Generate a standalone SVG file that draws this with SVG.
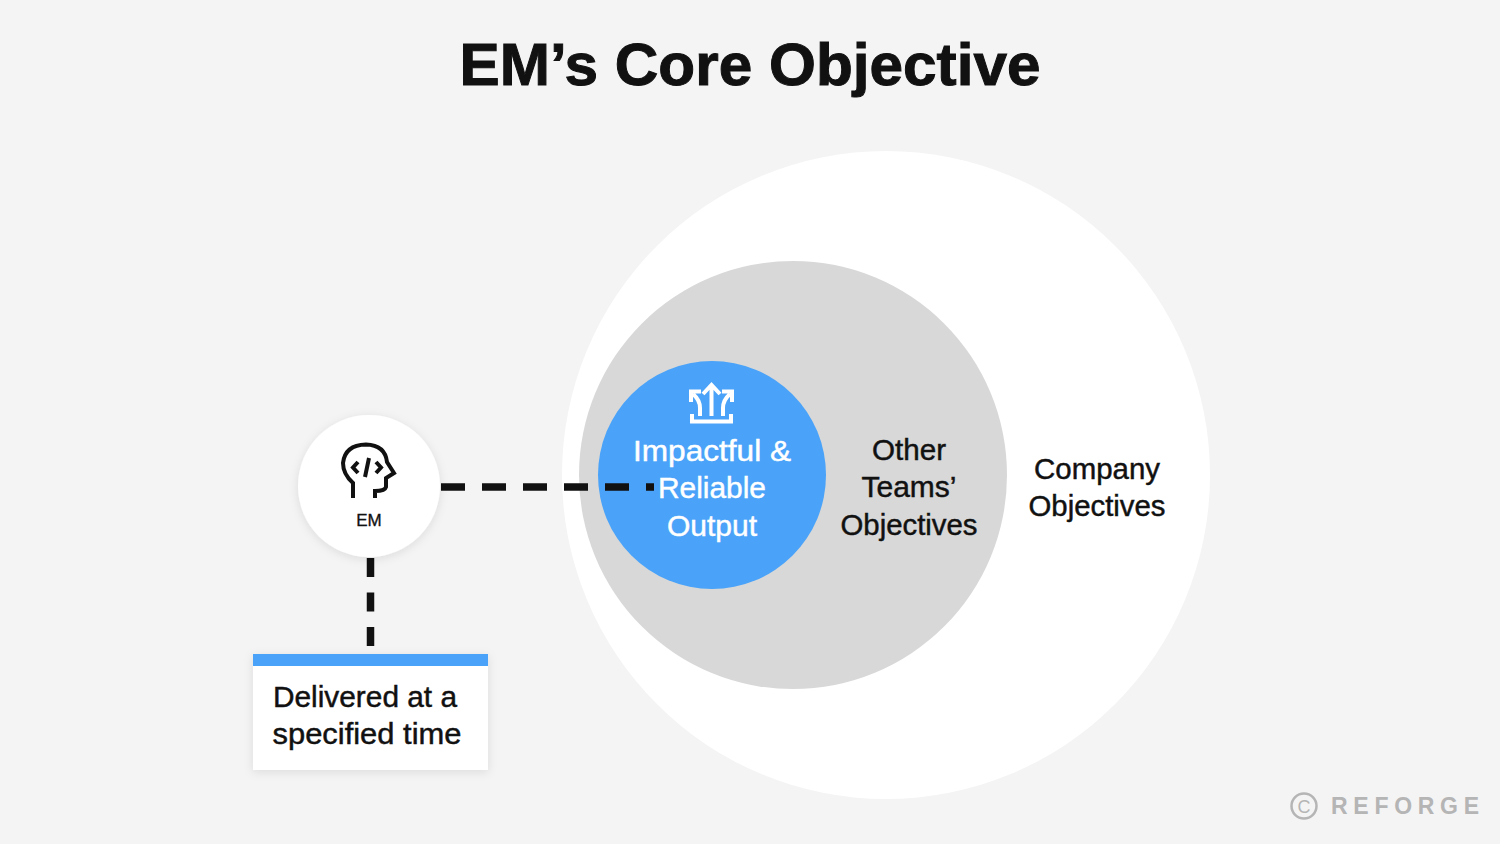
<svg xmlns="http://www.w3.org/2000/svg" width="1500" height="844" viewBox="0 0 1500 844">
<style>
text{font-family:"Liberation Sans",Arial,sans-serif;fill:#111;text-anchor:middle}
.l{font-size:29px;font-weight:500;stroke:#111;stroke-width:.45px}
.w{fill:#fff;stroke:#fff}
.dash{fill:none;stroke:#111;stroke-width:7.5}
.ic{fill:none;stroke:#111;stroke-width:4}
.iw{fill:none;stroke:#fff;stroke-width:4}
</style>
<defs>
<filter id="s" x="-20%" y="-20%" width="140%" height="140%"><feDropShadow dx="0" dy="2" stdDeviation="5" flood-color="#000" flood-opacity=".1"/></filter>
</defs>
<rect width="1500" height="844" fill="#f4f4f4"/>
<text id="title" x="750" y="85" font-size="60" font-weight="700" stroke="#111" stroke-width="1" textLength="581" lengthAdjust="spacingAndGlyphs">EM’s Core Objective</text>
<g id="company"><circle cx="886" cy="475" r="324" fill="#fff"/><text class="l" x="1097" y="479" textLength="126" lengthAdjust="spacingAndGlyphs">Company</text><text class="l" x="1097" y="516" textLength="137" lengthAdjust="spacingAndGlyphs">Objectives</text></g>
<g id="teams"><circle cx="793" cy="475" r="214" fill="#d8d8d8"/><text class="l" x="909" y="460" textLength="74" lengthAdjust="spacingAndGlyphs">Other</text><text class="l" x="909" y="497" textLength="95" lengthAdjust="spacingAndGlyphs">Teams’</text><text class="l" x="909" y="535" textLength="137" lengthAdjust="spacingAndGlyphs">Objectives</text></g>
<g id="output"><circle cx="712" cy="475" r="114" fill="#4aa3f8"/>
<g class="iw"><path d="M711.500 416V387M703 394L711.500 385L720 394M700 416V408Q700 400 693 394M691 402V391.500H701M723 416V408Q723 400 730 394M732 402V391.500H722M692 414V421.500H731V414"/></g>
<text class="l w" x="712" y="461" textLength="158" lengthAdjust="spacingAndGlyphs">Impactful &amp;</text><text class="l w" x="712" y="498" textLength="108" lengthAdjust="spacingAndGlyphs">Reliable</text><text class="l w" x="712" y="536" textLength="90" lengthAdjust="spacingAndGlyphs">Output</text></g>
<g id="connectors"><path class="dash" d="M441 487H654" stroke-dasharray="24 17"/><path class="dash" d="M370.500 558V654" stroke-dasharray="19 15.500"/></g>
<g id="em"><circle cx="369" cy="486" r="71" fill="#fff" filter="url(#s)"/>
<path class="ic" d="M353 498V483Q343 474 343 463Q345 445 366 444.500Q385 445 387 462L394 473L386 478V487Q385 491 375 491V498"/>
<path class="ic" d="M358 462L353 467.500L358 473M376 462L381 467.500L376 473M369 458L365 477" stroke-width="3.500"/>
<text x="369" y="526" font-size="17" font-weight="500" stroke="#111" stroke-width=".3">EM</text></g>
<g id="delivered"><rect x="253" y="654" width="235" height="116" fill="#fff" filter="url(#s)"/><rect x="253" y="654" width="235" height="12" fill="#4aa3f8"/><text class="l" x="365" y="707" textLength="184" lengthAdjust="spacingAndGlyphs">Delivered at a</text><text class="l" x="367" y="744" textLength="189" lengthAdjust="spacingAndGlyphs">specified time</text></g>
<g id="reforge"><circle cx="1304" cy="806" r="12.500" fill="none" stroke="#b5b5b5" stroke-width="2.500"/><text x="1304" y="813" font-size="18" fill="#b5b5b5" style="fill:#b5b5b5">C</text><text x="1405" y="814" font-size="23" font-weight="700" style="fill:#b5b5b5" textLength="148">REFORGE</text></g>
</svg>
